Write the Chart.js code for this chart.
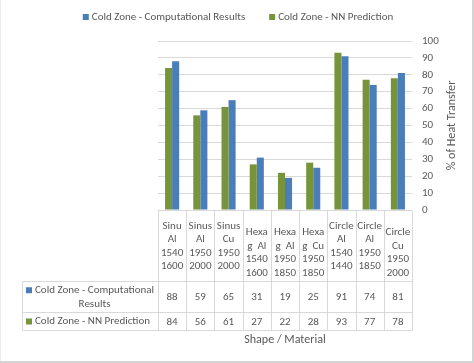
<!DOCTYPE html>
<html>
<head>
<meta charset="utf-8">
<script src="https://cdn.jsdelivr.net/npm/chart.js@4"></script>
<style>
  html,body{margin:0;padding:0;background:#fff;}
  #wrap{position:relative;width:474px;height:363px;}
  canvas{display:block;}
</style>
</head>
<body>
<div id="wrap"><canvas id="c" width="474" height="363"></canvas></div>
<script>
// ---- data ----
const categories = [
  ["Sinu","Al","1540","1600"],
  ["Sinus","Al","1950","2000"],
  ["Sinus","Cu","1950","2000"],
  ["","Hexa","g  Al","1540","1600"],
  ["","Hexa","g  Al","1950","1850"],
  ["","Hexa","g  Cu","1950","1850"],
  ["Circle","Al","1540","1440"],
  ["Circle","Al","1950","1850"],
  ["","Circle","Cu","1950","2000"]
];
const computationalResults = [88, 59, 65, 31, 19, 25, 91, 74, 81];
const nnPrediction = [84, 56, 61, 27, 22, 28, 93, 77, 78];
const seriesNames = ["Cold Zone - Computational Results", "Cold Zone - NN Prediction"];
const tableRowLabels = [["Cold Zone - Computational", "Results"], ["Cold Zone - NN Prediction"]];
const yMin = 0, yMax = 100, yStep = 10;
const yTitle = "% of Heat Transfer";
const xTitle = "Shape / Material";

const BLUE = "#4a7ebb";
const GREEN = "#77933c";
const TEXT = "#595959";
const GRID = "#d9d9d9";

// pick Carlito (Calibri metrics) if present, else Lato
function pickFont() {
  const c = document.createElement("canvas").getContext("2d");
  const s = "Cold Zone 1540 abcdefghij";
  c.font = "20px monospace"; const base = c.measureText(s).width;
  c.font = "20px Carlito, monospace"; const w = c.measureText(s).width;
  return Math.abs(w - base) > 0.5 ? { fam: "Carlito, sans-serif", k: 1.1 } : { fam: "Lato, sans-serif", k: 1.0 };
}
const F = pickFont();
const FONT = F.fam;
const fs = v => (v * F.k).toFixed(1) + "px " + FONT;

const decorPlugin = {
  id: "decor",
  afterDraw(chart) {
    const ctx = chart.ctx;
    const ca = chart.chartArea;
    const n = categories.length;
    const cw = (ca.right - ca.left) / n;
    const top = Math.round(ca.bottom) + 0.5;
    const r1 = 281.5, r2 = 312.5, bot = 330.5, left = 22.5;
    ctx.save();
    ctx.strokeStyle = GRID;
    ctx.lineWidth = 1;
    const line = (x1, y1, x2, y2) => { ctx.beginPath(); ctx.moveTo(x1, y1); ctx.lineTo(x2, y2); ctx.stroke(); };
    line(ca.left, top, ca.right, top);
    [r1, r2, bot].forEach(y => line(left, y, Math.round(ca.right) + 0.5, y));
    for (let i = 0; i <= n; i++) {
      const xb = Math.round(ca.left + i * cw) + 0.5;
      line(xb, top, xb, bot);
    }
    line(left, r1, left, bot);

    // category labels
    ctx.fillStyle = TEXT;
    ctx.font = fs(10);
    ctx.textAlign = "center";
    ctx.textBaseline = "middle";
    const lh = 13.5;
    const cellMid = (top + r1) / 2;
    categories.forEach((lines, i) => {
      const cx = chart.scales.x.getPixelForValue(i);
      const y0 = cellMid - (lines.length - 1) * lh / 2;
      lines.forEach((t, k) => ctx.fillText(t, cx, y0 + k * lh));
    });
    // values
    const rows = [computationalResults, nnPrediction];
    const rowMids = [(r1 + r2) / 2, (r2 + bot) / 2];
    rows.forEach((vals, ri) => {
      vals.forEach((v, i) => {
        ctx.fillText(String(v), chart.scales.x.getPixelForValue(i), rowMids[ri] + 0.5);
      });
    });
    // row labels
    const colors = [BLUE, GREEN];
    tableRowLabels.forEach((lines, ri) => {
      const y0 = rowMids[ri] - (lines.length - 1) * 13.5 / 2;
      ctx.fillStyle = colors[ri];
      ctx.fillRect(26, y0 - 3, 6, 6);
      ctx.fillStyle = TEXT;
      ctx.textAlign = "left";
      const w0 = ctx.measureText(lines[0]).width;
      ctx.fillText(lines[0], 35, y0);
      ctx.textAlign = "center";
      for (let k = 1; k < lines.length; k++) ctx.fillText(lines[k], 35 + w0 / 2, y0 + k * 13.5);
    });

    // x title
    ctx.font = fs(11);
    ctx.textAlign = "center";
    ctx.fillText(xTitle, (ca.left + ca.right) / 2, 340);
    // y title (right, reading upward)
    ctx.save();
    ctx.translate(452, (ca.top + ca.bottom) / 2);
    ctx.rotate(-Math.PI / 2);
    ctx.fillText(yTitle, 0, 0);
    ctx.restore();

    // legend (computational first)
    ctx.font = fs(10);
    const items = [{t: seriesNames[0], c: BLUE}, {t: seriesNames[1], c: GREEN}];
    const sq = 6, gap = 3, spacing = 24;
    const widths = items.map(it => sq + gap + ctx.measureText(it.t).width);
    const total = widths[0] + spacing + widths[1];
    let lx = 238 - total / 2;
    const ly = 17;
    items.forEach((it, i) => {
      ctx.fillStyle = it.c;
      ctx.fillRect(lx, ly - 3, sq, sq);
      ctx.fillStyle = TEXT;
      ctx.textAlign = "left";
      ctx.fillText(it.t, lx + sq + gap, ly);
      lx += widths[i] + spacing;
    });

    // frame edges
    ctx.fillStyle = "#ececec";
    ctx.fillRect(0, 0, 1, 363);
    ctx.fillStyle = "#d4d4d4";
    ctx.fillRect(472, 0, 2, 363);
    ctx.fillRect(0, 361, 474, 2);
    ctx.restore();
  }
};

new Chart(document.getElementById("c"), {
  type: "bar",
  data: {
    labels: categories,
    datasets: [
      { label: seriesNames[1], data: nnPrediction, backgroundColor: GREEN, categoryPercentage: 0.5, barPercentage: 1.0 },
      { label: seriesNames[0], data: computationalResults, backgroundColor: BLUE, categoryPercentage: 0.5, barPercentage: 1.0 }
    ]
  },
  options: {
    responsive: false,
    animation: false,
    devicePixelRatio: 1,
    layout: { padding: { left: 158, top: 41, right: 0, bottom: 153 } },
    plugins: { legend: { display: false }, tooltip: { enabled: false } },
    scales: {
      x: { display: false },
      y: {
        position: "right",
        min: yMin, max: yMax,
        ticks: { stepSize: yStep, color: TEXT, font: { size: 10 * F.k, family: FONT }, padding: 10 },
        grid: { color: GRID, drawTicks: false },
        border: { display: false },
        afterFit(s) { s.width = 62; }
      }
    }
  },
  plugins: [decorPlugin]
});
</script>
</body>
</html>
